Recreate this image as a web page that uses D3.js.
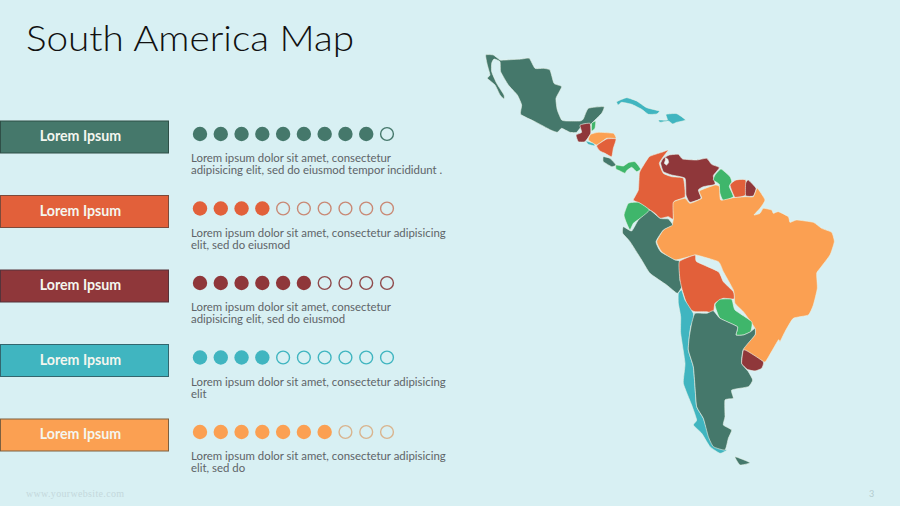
<!DOCTYPE html>
<html><head><meta charset="utf-8">
<script src="https://cdnjs.cloudflare.com/ajax/libs/d3/7.8.5/d3.min.js"></script>
<style>html,body{margin:0;padding:0;background:#d8f0f3;overflow:hidden}svg{display:block}</style>
</head><body><svg id="c" width="900" height="506"></svg>
<script>
const titleText = "South America Map";
const categories = ["Lorem Ipsum","Lorem Ipsum","Lorem Ipsum","Lorem Ipsum","Lorem Ipsum"];
const filledDots = [9,4,6,4,7];
const totalDots = 10;
const barColors = ["#45786b","#e2603a","#8f373a","#40b5c0","#fba052"];
const barEdges = ["#2f4f47","#7d4a3a","#55333a","#33666e","#7d6040"];
const hollowEdges = ["#45786b","#c98975","#8f4a4b","#40b5c0","#d9b48e"];
const descriptions = [
 ["Lorem ipsum dolor sit amet, consectetur","adipisicing elit, sed do eiusmod tempor incididunt ."],
 ["Lorem ipsum dolor sit amet, consectetur adipisicing","elit, sed do eiusmod"],
 ["Lorem ipsum dolor sit amet, consectetur","adipisicing elit, sed do eiusmod"],
 ["Lorem ipsum dolor sit amet, consectetur adipisicing","elit"],
 ["Lorem ipsum dolor sit amet, consectetur adipisicing","elit, sed do"]];

// Map outlines, in trace units (3 per pixel)
const dark="#45786b",red="#e2603a",maroon="#8f373a",teal="#40b5c0",orange="#fba052",green="#3fb66b";
const mexico=[[17,30],[40,30],[60,45],[75,45],[125,42],[148,40],[165,70],[190,70],[210,75],[222,115],[245,125],[228,160],[232,195],[245,225],[262,228],[300,228],[310,222],[325,190],[372,185],[365,205],[345,225],[332,238],[310,238],[290,262],[270,262],[245,250],[232,262],[212,255],[165,230],[122,208],[125,180],[112,150],[85,120],[62,80],[60,50],[42,42],[35,55],[35,80],[50,115],[72,150],[72,162],[60,150],[45,120],[22,100],[30,90],[22,60]];
const guatemala=[[300,240],[330,235],[332,265],[315,290],[295,290],[288,270],[305,262]];
const belize=[[335,235],[347,228],[345,250],[335,258]];
const honduras=[[332,268],[355,262],[400,265],[408,280],[380,280],[350,300],[325,285]];
const elSalvador=[[318,288],[340,295],[345,303],[325,298]];
const nicaragua=[[350,302],[380,282],[408,282],[400,310],[395,335],[375,325],[360,318]];
const costaRica=[[370,335],[390,340],[408,360],[395,365],[370,350]];
const panama=[[408,360],[430,363],[445,353],[465,350],[482,372],[470,380],[455,367],[440,377],[435,385],[420,378],[408,372]];
const cuba=[[410,170],[440,158],[470,168],[500,188],[538,198],[530,207],[505,208],[485,193],[455,178],[425,172],[415,180]];
const hispaniola=[[558,208],[590,206],[617,225],[590,232],[578,237],[565,228],[540,232],[536,225],[562,225]];
const colombia=[[508,335],[545,322],[565,315],[550,335],[538,355],[550,385],[575,395],[610,400],[615,455],[582,470],[580,522],[565,515],[540,520],[525,505],[505,492],[480,475],[460,465],[475,435],[478,385],[485,370]];
const venezuela=[[550,340],[568,330],[595,328],[608,342],[650,345],[680,340],[695,358],[718,368],[700,392],[705,418],[670,425],[655,435],[663,460],[630,472],[618,450],[615,400],[575,390],[550,380],[542,355]];
const maracaibo=[[556,338],[563,342],[566,352],[560,360],[553,355],[556,346]];
const guyana=[[723,372],[750,395],[755,410],[748,425],[760,455],[730,467],[718,440],[718,418],[700,405],[705,390]];
const suriname=[[750,420],[768,405],[797,405],[797,450],[765,457]];
const frenchGuiana=[[797,415],[805,405],[828,430],[820,453],[797,452]];
const brazil=[[580,472],[615,460],[630,475],[665,460],[658,438],[705,420],[718,425],[722,465],[760,458],[797,455],[820,455],[832,430],[855,465],[840,490],[822,510],[840,505],[850,490],[875,495],[880,505],[895,500],[925,515],[930,532],[950,525],[1000,532],[1025,550],[1055,562],[1063,590],[1050,630],[1020,670],[1010,685],[1012,730],[1000,780],[985,810],[940,820],[915,860],[900,890],[895,885],[860,945],[850,950],[790,913],[825,870],[825,850],[812,830],[790,800],[765,775],[760,735],[730,680],[715,650],[650,630],[645,630],[585,645],[545,620],[530,590],[550,555],[575,540],[580,522]];
const peru=[[508,495],[540,520],[565,522],[578,540],[550,555],[528,590],[542,620],[585,645],[600,650],[600,705],[608,720],[592,745],[560,720],[510,685],[485,645],[450,590],[428,565],[430,545],[455,558],[475,525]];
const ecuador=[[445,475],[475,472],[508,495],[480,520],[460,535],[450,555],[440,535],[432,510]];
const bolivia=[[598,650],[645,630],[650,650],[715,680],[730,710],[760,740],[762,762],[730,760],[705,775],[700,805],[680,800],[645,800],[625,790],[608,740],[600,705]];
const paraguay=[[705,780],[720,763],[755,763],[765,795],[815,830],[812,860],[790,870],[768,870],[772,845],[720,820]];
const chile=[[595,745],[605,735],[615,765],[640,805],[640,825],[632,845],[628,875],[625,915],[640,965],[645,1025],[650,1085],[670,1120],[685,1165],[690,1180],[710,1205],[740,1215],[720,1225],[690,1205],[665,1165],[640,1140],[650,1125],[635,1080],[610,1015],[615,955],[602,865],[602,815],[595,775]];
const argentina=[[635,835],[645,805],[680,805],[700,797],[720,820],[772,845],[768,870],[790,870],[812,860],[825,850],[825,870],[790,913],[785,955],[805,980],[818,1005],[805,1025],[755,1035],[760,1060],[735,1065],[735,1115],[730,1140],[755,1155],[745,1180],[735,1215],[700,1205],[685,1175],[670,1120],[650,1085],[645,1025],[640,965],[625,915],[628,875]];
const fuego=[[765,1235],[810,1253],[780,1260]];
const uruguay=[[790,915],[805,920],[850,950],[845,970],[825,978],[802,973],[785,955]];
const regions=[[mexico,dark],[guatemala,maroon],[belize,green],[honduras,orange],[elSalvador,teal],[nicaragua,red],[costaRica,dark],[panama,green],[cuba,teal],[hispaniola,teal],[colombia,red],[venezuela,maroon],[guyana,green],[suriname,red],[frenchGuiana,maroon],[brazil,orange],[peru,dark],[ecuador,green],[bolivia,red],[paraguay,green],[chile,teal],[argentina,dark],[fuego,dark],[uruguay,maroon],[maracaibo,"#eef6f4"]];

const svg=d3.select("#c");
const body="Lato, 'Open Sans', sans-serif";
svg.append("text").attr("x",26).attr("y",51).attr("font-family",body).attr("font-weight",300).attr("font-size",36).attr("textLength",328).attr("lengthAdjust","spacingAndGlyphs").attr("fill","#111").text(titleText);

const rowY=d3.scalePoint().domain(d3.range(categories.length)).range([137,435]);
const dotX=d3.scaleLinear().domain([0,totalDots-1]).range([200,387]);
const rows=svg.selectAll("g.row").data(categories).join("g").attr("class","row").attr("transform",(d,i)=>`translate(0,${rowY(i)})`);
rows.append("rect").attr("x",0.5).attr("y",-16).attr("width",168).attr("height",32)
 .attr("fill",(d,i)=>barColors[i]).attr("stroke",(d,i)=>barEdges[i]).attr("stroke-width",1);
rows.append("text").attr("x",80.5).attr("y",4).attr("text-anchor","middle").attr("font-family",body).attr("font-weight",700).attr("font-size",14.2).attr("fill","#f4f6ef").text(d=>d);
rows.each(function(d,i){
 const g=d3.select(this);
 g.selectAll("circle").data(d3.range(totalDots)).join("circle").attr("cx",k=>dotX(k)).attr("cy",-3).attr("r",k=>k<filledDots[i]?7.2:6.4)
  .attr("fill",k=>k<filledDots[i]?barColors[i]:"none").attr("stroke",k=>k<filledDots[i]?"none":hollowEdges[i]).attr("stroke-width",1.4);
 descriptions[i].forEach((line,j)=>{
  g.append("text").attr("x",191).attr("y",25+j*12.4).attr("font-family",body).attr("font-size",11.4).attr("fill","#5e6468").text(line);
 });
});
svg.append("text").attr("x",26).attr("y",497).attr("font-family","'Liberation Serif',serif").attr("font-size",10).attr("fill","#c4d8dc").attr("textLength",98).text("www.yourwebsite.com");
svg.append("text").attr("x",869).attr("y",497).attr("font-family",body).attr("font-size",9).attr("fill","#b4ccd0").text("3");

const mapX=d3.scaleLinear().domain([0,1200]).range([480,880]);
const mapY=d3.scaleLinear().domain([0,1320]).range([45,485]);
const line=d3.line().x(p=>mapX(p[0])).y(p=>mapY(p[1])).curve(d3.curveCardinalClosed.tension(0.55));
svg.append("g").selectAll("path").data(regions).join("path").attr("d",d=>line(d[0])).attr("fill",d=>d[1]).attr("stroke","#e9f3ea").attr("stroke-width",0.6).attr("stroke-linejoin","round");
</script></body></html>
